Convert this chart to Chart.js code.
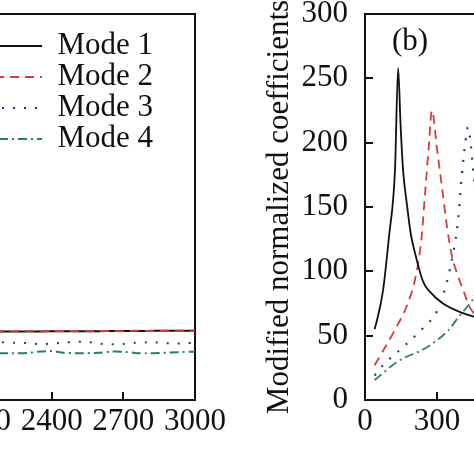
<!DOCTYPE html>
<html><head><meta charset="utf-8">
<script src="https://cdn.jsdelivr.net/npm/chart.js@4.4.1/dist/chart.umd.min.js"></script>
<style>
html,body{margin:0;padding:0;background:#fff;}
#wrap{position:relative;width:474px;height:474px;overflow:hidden;background:#fff;}
canvas{position:absolute;top:0;}
#cA{left:-130px;}
#cB{left:255px;}
</style></head><body>
<div id="wrap"><canvas id="cA" width="365" height="474"></canvas><canvas id="cB" width="264" height="474"></canvas></div>
<script>
// ---------- shared ----------
const modeNames = ['Mode 1', 'Mode 2', 'Mode 3', 'Mode 4'];
const modeColors = ['#111111', '#d63a3f', '#1f3d7a', '#2e7b6b'];
const modeDashes = [[], [9, 6], [2, 9], [9, 4, 2, 4]];
const yTitleB = 'Modified normalized coefficients';
const panelLabelB = '(b)';

// ---------- panel (a) (right part visible) ----------
const freqA = [2100, 2150, 2200, 2250, 2300, 2350, 2400, 2450, 2500, 2550, 2600, 2650, 2700, 2750, 2800, 2850, 2900, 2950, 3000];
const a1 = [53.1, 53.1, 53.2, 53.2, 53.3, 53.3, 53.4, 53.4, 53.5, 53.5, 53.5, 53.6, 53.6, 53.7, 53.7, 53.8, 53.8, 53.9, 53.9];
const a2 = [53.3, 53.5, 53.2, 53.4, 53.6, 53.3, 53.4, 53.7, 53.5, 53.4, 53.7, 53.6, 53.5, 53.8, 53.7, 53.6, 53.9, 53.8, 54.0];
const a3 = [44.6, 44.8, 44.8, 44.5, 44.2, 43.5, 43.8, 44.6, 45.2, 45.0, 43.8, 43.3, 43.6, 44.4, 44.8, 44.6, 44.0, 44.0, 44.5];
const a4 = [36.5, 36.4, 36.3, 36.3, 36.6, 37.6, 38.0, 36.8, 36.3, 36.5, 36.8, 37.6, 37.5, 36.6, 36.3, 36.5, 36.9, 37.3, 37.5];
const xTicksA = [2100, 2400, 2700, 3000];
const yTicksA = [0, 50, 100, 150, 200, 250, 300];

// ---------- panel (b) (left part visible) ----------
const b1x = [40, 50, 75, 100, 125, 138, 148, 158, 174, 190, 210, 242, 271, 325, 408, 450, 520, 600];
const b1y = [55, 62, 85, 127, 179, 258, 215, 180, 153, 130, 113, 92, 84, 75, 67.5, 65, 62, 60];
const b2x = [40, 120, 180, 210, 235, 250, 265, 279, 300, 321, 342, 362, 388, 412, 437, 500, 600];
const b2y = [27, 53, 76, 95, 125, 160, 195, 225, 195, 165, 134, 112, 96, 84, 72, 60, 55];
const b3x = [40, 75, 158, 242, 300, 333, 367, 388, 404, 418, 429, 437, 454, 480, 520, 600];
const b3y = [19, 27, 41, 56, 69, 86, 114, 140, 176, 200, 212, 205, 172, 135, 105, 85];
const b4x = [40, 137, 258, 346, 396, 437, 454, 480, 520, 560, 600];
const b4y = [15.5, 30, 41, 54, 66, 75, 80, 95, 130, 200, 160];
const xTicksB = [0, 300, 600];
const yTicksB = [0, 50, 100, 150, 200, 250, 300];
const panelLabelPos = [187.5, 278];

Chart.defaults.font.family = "'Liberation Serif', 'Times New Roman', serif";
Chart.defaults.font.size = 31;
Chart.defaults.color = '#111';

const INK = '#111';
const pts = (xs, ys) => xs.map((x, i) => ({x: x, y: ys[i]}));
const setTicks = arr => s => { s.ticks = arr.map(v => ({value: v})); };

// legend swatches (dashed line samples) used as point styles by the legend
const SWATCH_W = 62;
const LEGEND_TOP_OFFSET = 16.5;
const legendSamples = modeColors.map((col, i) => {
  const c = document.createElement('canvas');
  c.width = SWATCH_W; c.height = 4;
  const g = c.getContext('2d');
  g.strokeStyle = col; g.lineWidth = 2; g.setLineDash(modeDashes[i]);
  g.beginPath(); g.moveTo(0, 2); g.lineTo(SWATCH_W, 2); g.stroke();
  return c;
});

function frameAxis(pos) {
  const horiz = pos === 'top' || pos === 'bottom';
  return {
    type: 'linear', position: pos, display: true,
    ticks: {display: false}, grid: {display: false, drawTicks: false},
    border: {display: true, color: INK, width: 2},
    afterFit: s => { if (horiz) s.height = 0; else s.width = 0; s.paddingLeft = s.paddingRight = s.paddingTop = s.paddingBottom = 0; }
  };
}
function xAxis(min, max, ticksArr) {
  return {
    type: 'linear', position: 'bottom', min: min, max: max,
    afterBuildTicks: setTicks(ticksArr),
    afterFit: s => { s.height = 60; s.paddingLeft = 0; s.paddingRight = 0; },
    ticks: {padding: 11, color: INK, font: {size: 31}, maxRotation: 0, autoSkip: false, callback: v => String(v)},
    grid: {display: true, drawOnChartArea: false, drawTicks: true, tickLength: -8, color: INK, lineWidth: 2},
    border: {display: true, color: INK, width: 2}
  };
}
function yAxis(ticksArr, title) {
  const ax = {
    type: 'linear', position: 'left', min: 0, max: 300,
    afterBuildTicks: setTicks(ticksArr),
    afterFit: s => { s.width = 110; s.paddingTop = 0; s.paddingBottom = 0; },
    ticks: {padding: 25, color: INK, font: {size: 31}, callback: v => String(v)},
    grid: {display: true, drawOnChartArea: false, drawTicks: true, tickLength: -8, color: INK, lineWidth: 2},
    border: {display: true, color: INK, width: 2}
  };
  if (title) ax.title = {display: true, text: title, color: INK, font: {size: 31}, padding: {top: 6, bottom: 0}};
  return ax;
}

// moves the in-plot legend down a little inside the chart area
const legendShift = {
  id: 'legendShift',
  beforeDraw(chart) {
    const lg = chart.legend;
    if (lg) { lg.top = chart.chartArea.top + LEGEND_TOP_OFFSET; lg.bottom = chart.chartArea.bottom; }
  }
};

// ---------- chart A ----------
const seriesA = [a1, a2, a3, a4];
new Chart(document.getElementById('cA'), {
  type: 'line',
  data: {
    datasets: seriesA.map((arr, i) => ({
      label: modeNames[i],
      data: pts(freqA, arr),
      borderColor: modeColors[i],
      backgroundColor: modeColors[i],
      borderDash: modeDashes[i],
      borderWidth: 2,
      pointRadius: 0,
      tension: 0.3,
      fill: false,
      order: i === 1 ? 0 : i + 1
    }))
  },
  options: {
    responsive: false, animation: false, devicePixelRatio: 1,
    layout: {padding: {top: 14, bottom: 14, left: 0, right: 40}},
    plugins: {
      tooltip: {enabled: false},
      legend: {
        display: true, position: 'chartArea', align: 'start',
        labels: {
          usePointStyle: true, pointStyleWidth: SWATCH_W,
          padding: 0, color: INK, font: {size: 31},
          generateLabels: chart => Chart.defaults.plugins.legend.labels.generateLabels(chart)
            .map(item => Object.assign(item, {pointStyle: legendSamples[item.datasetIndex]})),
          sort: (a, b) => a.datasetIndex - b.datasetIndex
        }
      }
    },
    scales: {
      x: xAxis(2100, 3000, xTicksA),
      y: yAxis(yTicksA, null),
      x2: frameAxis('top'),
      y2: frameAxis('right')
    }
  },
  plugins: [legendShift]
});

// ---------- chart B ----------
const seriesB = [[b1x, b1y], [b2x, b2y], [b3x, b3y], [b4x, b4y]];
const panelLabelPlugin = {
  id: 'panelLabel',
  afterDatasetsDraw(chart) {
    const {ctx, scales} = chart;
    ctx.save();
    ctx.font = "31px 'Liberation Serif', 'Times New Roman', serif";
    ctx.fillStyle = INK;
    ctx.textAlign = 'center';
    ctx.textBaseline = 'middle';
    ctx.fillText(panelLabelB, scales.x.getPixelForValue(panelLabelPos[0]), scales.y.getPixelForValue(panelLabelPos[1]));
    ctx.restore();
  }
};
new Chart(document.getElementById('cB'), {
  type: 'line',
  data: {
    datasets: seriesB.map((s, i) => ({
      label: modeNames[i],
      data: pts(s[0], s[1]),
      borderColor: modeColors[i],
      backgroundColor: modeColors[i],
      borderDash: modeDashes[i],
      borderWidth: i === 2 ? 2.2 : 1.8,
      pointRadius: 0,
      cubicInterpolationMode: 'monotone',
      fill: false
    }))
  },
  options: {
    responsive: false, animation: false, devicePixelRatio: 1,
    layout: {padding: {top: 14, bottom: 14, left: 0, right: 10}},
    plugins: {tooltip: {enabled: false}, legend: {display: false}},
    scales: {
      x: xAxis(0, 600, xTicksB),
      y: yAxis(yTicksB, yTitleB),
      x2: frameAxis('top'),
      y2: frameAxis('right')
    }
  },
  plugins: [panelLabelPlugin]
});
</script>
</body></html>
